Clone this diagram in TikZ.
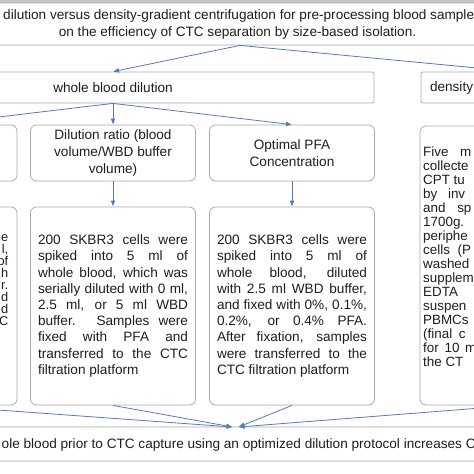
\documentclass[tikz,border=0pt]{standalone}
\usepackage{fontspec}
\setmainfont{Liberation Sans}
\usetikzlibrary{arrows.meta}
\definecolor{boxgray}{HTML}{ABABAB}
\definecolor{linkblue}{HTML}{5878BE}
\definecolor{txt}{HTML}{1E1E1E}
\begin{document}
\begin{tikzpicture}[x=1pt,y=-1pt,
  every node/.style={text=txt, font=\fontsize{13.6}{16.2}\selectfont},
  flatbox/.style={draw=boxgray, line width=0.8pt, rounded corners=2pt, inner sep=0pt},
  roundbox/.style={draw=boxgray, line width=0.8pt, rounded corners=6pt, inner sep=0pt, minimum width=165pt},
  link/.style={draw=linkblue, line width=0.8pt},
  arrowlink/.style={link, -{Latex[length=6pt,width=5pt]}},
  txtlabel/.style={inner sep=0pt, anchor=base west},
  justbox/.style={roundbox, minimum height=198pt, text width=150pt, align=justify}
]
\useasboundingbox (0,0) rectangle (474,474);
\clip (0,0) rectangle (474,474);
\fill[white] (0,0) rectangle (474,474);
\fill[black!22] (0,0) rectangle (474,3);

% top question box
\node[flatbox, minimum width=880pt, minimum height=42pt] (top) at (240,24) {};
\node[txtlabel] (t1) at (3,19.8) {dilution versus density-gradient centrifugation for pre-processing blood sample};
\node[inner sep=0pt, anchor=base] (t2) at (237.5,36.8) {on the efficiency of CTC separation by size-based isolation.};

% second row
\node[flatbox, minimum width=522pt, minimum height=31pt] (wbd) at (113,87.5) {whole blood dilution};
\node[flatbox, minimum width=188pt, minimum height=31pt, text width=170pt, align=left] (dens) at (515,87.5) {density};

% parameter boxes
\node[roundbox, minimum height=56pt] (m0) at (-65.5,153) {};
\node[roundbox, minimum height=56pt, align=center, font=\fontsize{13.6}{17}\selectfont] (m1) at (113,153) {Dilution ratio (blood\\volume/WBD buffer\\volume)};
\node[roundbox, minimum height=56pt, align=center, font=\fontsize{13.6}{17}\selectfont] (m2) at (292,153) {Optimal PFA\\Concentration};

% detail boxes
\node[roundbox, minimum height=198pt] (l0) at (-65.5,306) {};
\node[justbox] (l1) at (113,306) {200 SKBR3 cells were\linebreak spiked into 5 ml of\linebreak whole blood, which was\linebreak serially diluted with 0 ml,\linebreak 2.5 ml, or 5 ml WBD\linebreak buffer. Samples were\linebreak fixed with PFA and\linebreak transferred to the CTC\linebreak filtration platform};
\node[justbox] (l2) at (292,306) {200 SKBR3 cells were\linebreak spiked into 5 ml of\linebreak whole blood, diluted\linebreak with 2.5 ml WBD buffer,\linebreak and fixed with 0\%, 0.1\%,\linebreak 0.2\%, or 0.4\% PFA.\linebreak After fixation, samples\linebreak were transferred to the\linebreak CTC filtration platform};
\node[roundbox, minimum width=188pt, minimum height=279pt] (dd) at (514,265.5) {};

% visible ends of the left detail text
\foreach \s [count=\i] in {e,{l,},of,h,r.,d,d,C}
  \node[inner sep=0pt, anchor=base east, font=\fontsize{12.8}{12}\selectfont] (lz\i) at (8.5,{241+12*(\i-1)}) {\s};

% visible starts of the right detail text
\foreach \s [count=\i] in {{Five\hspace{8pt} m},collecte,{CPT tu},{by\hspace{7pt} inv},{and\hspace{8pt} sp},{1700g.},periphe,{cells\hspace{4pt} (P},washed,supplem,EDTA,suspen,PBMCs,{(final\hspace{3pt} c},{for\hspace{2pt} 10\hspace{2pt} m},{the CT}}
  \node[inner sep=0pt, anchor=base west, font=\fontsize{13.4}{14}\selectfont] (rz\i) at (423,{156.5+14*(\i-1)}) {\s};

% bottom conclusion box
\node[flatbox, minimum width=1000pt, minimum height=34pt] (bot) at (237,444) {};
\node[txtlabel] (bt) at (1.5,448.5) {ole blood prior to CTC capture using an optimized dilution protocol increases C};

% connectors
\draw[arrowlink] (top.south) -- (wbd.north);
\draw[arrowlink] (top.south) -- (dens.north);
\draw[arrowlink] (wbd.south) -- (m0.north);
\draw[arrowlink] (wbd.south) -- (m1.north);
\draw[arrowlink] (wbd.south) -- (m2.north);
\draw[arrowlink] (m0.south) -- (l0.north);
\draw[arrowlink] (m1.south) -- (l1.north);
\draw[arrowlink] (m2.south) -- (l2.north);
\draw[arrowlink] (dens.south) -- (dd.north);
\coordinate (jl) at (232.5,427);
\coordinate (jr) at (238.5,427);
\draw[arrowlink] (l0.south) -- (jl);
\draw[arrowlink] (l1.south) -- (jl);
\draw[arrowlink] (l2.south) -- (jr);
\draw[arrowlink] (dd.south) -- (jr);
\end{tikzpicture}
\end{document}
